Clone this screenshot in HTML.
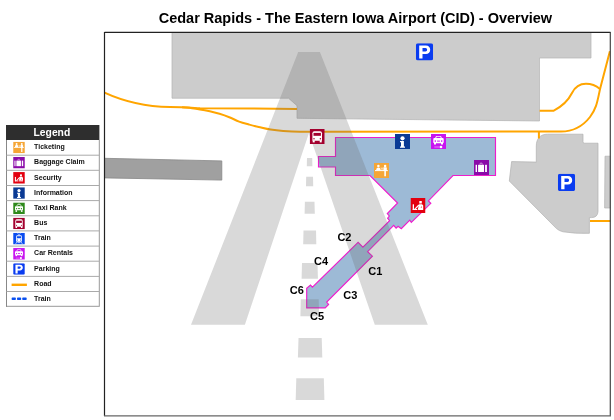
<!DOCTYPE html>
<html><head><meta charset="utf-8">
<style>
html,body{margin:0;padding:0;background:#fff;}
body{width:614px;height:420px;overflow:hidden;position:relative;font-family:"Liberation Sans",sans-serif;}
svg{position:absolute;left:0;top:0;will-change:transform;}
svg text{font-family:"Liberation Sans",sans-serif;font-weight:bold;}
</style></head>
<body>
<svg width="614" height="420" viewBox="0 0 614 420">
<defs>

  <symbol id="i-bus" viewBox="0 0 15 15">
    <rect width="15" height="15" fill="#a3002e"/>
    <path fill="#fff" d="M2.7,4.2 Q2.7,2.2 4.7,2.2 H10.3 Q12.3,2.2 12.3,4.2 V11.7 H2.7 Z"/>
    <rect x="3.8" y="3.9" width="7.4" height="2.9" fill="#a3002e"/>
    <circle cx="4.3" cy="9.8" r="0.75" fill="#a3002e"/><circle cx="10.7" cy="9.8" r="0.75" fill="#a3002e"/>
    <rect x="3" y="11.4" width="2" height="2" fill="#fff"/><rect x="10" y="11.4" width="2" height="2" fill="#fff"/>
  </symbol>
  <symbol id="i-info" viewBox="0 0 15 15">
    <rect width="15" height="15" fill="#0a3a94"/>
    <circle cx="7.5" cy="4.3" r="2.1" fill="#fff"/>
    <path fill="#fff" d="M5,7 H8.9 V12.5 H10 V13.8 H5 V12.5 H6 V8.3 H5 Z"/>
  </symbol>
  <symbol id="i-car" viewBox="0 0 15 15">
    <rect width="15" height="15" fill="#c814f0"/>
    <path fill="#fff" d="M4.1,4.3 L4.9,2.3 Q5.1,1.9 5.6,1.9 H9.4 Q9.9,1.9 10.1,2.3 L10.9,4.3 Z"/>
    <path fill="#c814f0" d="M5.2,4 L5.7,2.7 H9.3 L9.8,4 Z"/>
    <rect x="2.3" y="4.1" width="10.4" height="5.1" rx="1" fill="#fff"/>
    <circle cx="4.3" cy="7.1" r="0.8" fill="#c814f0"/><circle cx="10.7" cy="7.1" r="0.8" fill="#c814f0"/>
    <rect x="6.1" y="6.6" width="2.8" height="1" fill="#c814f0"/>
    <rect x="3" y="9" width="2" height="1.5" fill="#fff"/><rect x="10" y="9" width="2" height="1.5" fill="#fff"/>
    <path d="M3.3,13 H8.6" stroke="#fff" stroke-width="0.8" stroke-opacity="0.6"/>
    <circle cx="10" cy="13" r="1.35" fill="#fff"/>
  </symbol>
  <symbol id="i-taxi" viewBox="0 0 15 15">
    <rect width="15" height="15" fill="#2f8a1c"/>
    <rect x="6" y="1.6" width="3" height="1" fill="#fff" fill-opacity="0.8"/>
    <path fill="#fff" d="M4.1,5 L4.9,3 Q5.1,2.6 5.6,2.6 H9.4 Q9.9,2.6 10.1,3 L10.9,5 Z"/>
    <path fill="#2f8a1c" d="M5.2,4.7 L5.7,3.4 H9.3 L9.8,4.7 Z"/>
    <rect x="2.3" y="4.8" width="10.4" height="5.4" rx="1" fill="#fff"/>
    <circle cx="4.3" cy="8" r="0.8" fill="#2f8a1c"/><circle cx="10.7" cy="8" r="0.8" fill="#2f8a1c"/>
    <rect x="6.1" y="7.5" width="2.8" height="1" fill="#2f8a1c"/>
    <rect x="3" y="10" width="2" height="2.2" fill="#fff"/><rect x="10" y="10" width="2" height="2.2" fill="#fff"/>
  </symbol>
  <symbol id="i-train" viewBox="0 0 15 15">
    <rect width="15" height="15" fill="#0a4cf0"/>
    <path d="M5.5,0.8 L7.5,2.3 L9.5,0.8 M7.5,2.3 V3.2" stroke="#fff" stroke-width="0.7" fill="none"/>
    <path fill="#fff" d="M3.8,5 Q3.8,3.1 5.7,3.1 H9.3 Q11.2,3.1 11.2,5 V10.5 Q11.2,11.4 10.3,11.4 H4.7 Q3.8,11.4 3.8,10.5 Z"/>
    <rect x="4.8" y="4.4" width="5.4" height="2.6" fill="#0a4cf0"/>
    <circle cx="5.6" cy="9.3" r="0.7" fill="#0a4cf0"/><circle cx="9.4" cy="9.3" r="0.7" fill="#0a4cf0"/>
    <path d="M5,11.6 Q4,13 3.2,14.2 M10,11.6 Q11,13 11.8,14.2 M5.6,12.6 H9.4" stroke="#fff" stroke-width="0.9" fill="none"/>
  </symbol>
  <symbol id="i-ticket" viewBox="0 0 15 15">
    <rect width="15" height="15" fill="#f5a637"/>
    <circle cx="4.4" cy="2.9" r="1.25" fill="#fff"/>
    <path fill="#fff" d="M2.2,7.3 C2.2,5.2 2.8,4.4 4.4,4.4 C6,4.4 6.6,5.2 6.6,7.3 Z"/>
    <circle cx="11.1" cy="2.9" r="1.25" fill="#fff"/>
    <path fill="#fff" d="M9.4,4.9 Q9.4,4.3 10,4.3 H12.2 Q12.8,4.3 12.8,4.9 V7.8 H11.9 V13.2 H10.3 V7.8 H9.4 Z"/>
    <rect x="1" y="7.1" width="12.8" height="1" fill="#fff"/>
    <path d="M7.2,4.6 L8,5.8 L8.8,4.6 M8,5.8 V7" stroke="#fff" stroke-width="0.7" fill="none"/>
  </symbol>
  <symbol id="i-bag" viewBox="0 0 15 15">
    <rect width="15" height="15" fill="#8a0aa8"/>
    <rect x="1.6" y="4.8" width="1.4" height="7.2" fill="#fff"/>
    <rect x="4.1" y="4.8" width="5.9" height="7.2" fill="#fff"/>
    <rect x="11.1" y="4.8" width="1.8" height="7.2" fill="#fff"/>
    <path d="M5.9,4.8 L6.2,3.1 H8 L8.3,4.8" stroke="#fff" stroke-width="0.6" stroke-opacity="0.8" fill="none"/>
  </symbol>
  <symbol id="i-sec" viewBox="0 0 15 15">
    <rect width="15" height="15" fill="#e3000f"/>
    <rect x="8.8" y="3" width="2.5" height="2.5" fill="#fff"/>
    <rect x="2.2" y="6.3" width="1.3" height="5.6" fill="#fff"/>
    <rect x="2.2" y="10.9" width="4.6" height="1.1" fill="#fff"/>
    <rect x="7.6" y="10.9" width="5.1" height="1.1" fill="#fff"/>
    <path fill="#fff" d="M3.5,11.2 L8,6.5 L9,7.4 L4.9,11.2 Z"/>
    <path fill="#fff" fill-rule="evenodd" d="M8.6,6.2 H11.6 L12.7,7.5 V11 H7.4 Z M10,9.6 H11.4 V8.2 Z"/>
  </symbol>
  <symbol id="i-park" viewBox="0 0 17.2 17.3">
    <rect width="17.2" height="17.3" rx="2" fill="#0a3cf0"/>
    <path fill="#fff" fill-rule="evenodd" d="M3.3,15.4 V2.2 H10 C12.7,2.2 14.3,4 14.3,6.5 C14.3,9 12.7,10.8 10,10.8 H6.6 V15.4 Z M6.6,4.8 V8.3 H9.6 C10.6,8.3 11.2,7.5 11.2,6.55 C11.2,5.6 10.6,4.8 9.6,4.8 Z"/>
  </symbol>
  <clipPath id="mapclip"><rect x="104.5" y="32.5" width="506" height="383"/></clipPath>
</defs>
<!-- title -->
<text x="158.7" y="23.2" font-size="14.5" fill="#000">Cedar Rapids - The Eastern Iowa Airport (CID) - Overview</text>

<!-- MAP -->
<g clip-path="url(#mapclip)">
  <!-- top gray block -->
  <path d="M172,32 H591 V58 H539.5 V121 L297,118.3 V105.7 L288.5,98.2 H172 Z" fill="#cccccc" stroke="#b3b3b3" stroke-width="0.7"/>
  <!-- left gray rect -->
  <path d="M100,158.2 L221.8,160.9 L221.8,180.1 L100,177.8 Z" fill="#a0a0a0" stroke="#888" stroke-width="0.8"/>
  <!-- right building -->
  <path d="M547.5,134.2 H583 V141.8 Q583,143.2 584.5,143.2 H598 V211.7 Q597.5,217.5 591.5,217.6 H589.4 V233.3 Q575,233.8 563,231.8 Q559,230.8 556.5,228.6 L509.3,181 L511.6,161.6 L536.3,162.1 V146 C536.3,139 540,134.2 547.5,134.2 Z" fill="#cccccc" stroke="#b0b0b0" stroke-width="0.7"/>
  <path d="M605,156.2 L612,156.2 L612,208 L604.6,208 Z" fill="#cccccc" stroke="#b3b3b3" stroke-width="0.7"/>

  <!-- roads -->
  <g fill="none" stroke="#ffa500" stroke-width="2">
    <path d="M104,92.3 C125,102 145,106.5 170,107 C182,107 188,107.5 200,108.2 L297,108.9"/>
    <path d="M182.0,107.3 C183.7,107.5 189.0,107.8 192.0,108.2 C195.0,108.6 197.0,108.9 200.0,109.4 C203.0,109.9 206.6,110.6 209.8,111.3 C213.1,112.0 216.2,112.8 219.5,113.8 C222.8,114.8 226.0,115.9 229.3,117.2 C232.6,118.5 235.8,120.4 239.1,121.6 C242.4,122.8 245.6,123.6 248.9,124.5 C252.2,125.4 255.1,126.2 258.7,127.0 C262.3,127.8 266.5,128.9 270.6,129.6 C274.7,130.3 278.3,130.7 283.2,131.0 C288.1,131.3 293.9,131.6 300.0,131.7 C306.1,131.8 316.7,131.7 320.0,131.7 L561,131.5"/>
    <path d="M539.6,110.8 H553.4 C561,107 568,101 572,93 C575,87 579,83.8 586,83.8 C592,83.8 597,86.5 600,89"/>
    <path d="M609.9,51.2 L600.3,88 C597.5,100 597,108 590,117 C583,126 573,131.5 561,131.5"/>
    <path d="M538.9,131.5 V138.5"/>
    <path d="M590,221 H612"/>
  </g>

  <!-- terminal -->
  <path id="term" d="M335.5,137.5 H495.5 V175.5 H453 L428.4,200.9 L430.8,203.3 L411.3,222.4 L409.8,220.2 L401.3,228.7 L398.1,226.3 L396.1,228.2 L393.7,225.3 L367.6,251.7 L372.4,256.2 L326.7,302.1 L328.6,304.5 L325.2,307.9 H306.7 V288.3 L310.5,285 L312.4,287.2 L358.1,242.4 L362.9,247.1 L389.6,220.6 L387.6,218.2 L389.3,216 L387.3,213.6 L397.6,203 L370,175.5 H335.5 V167 H318.5 V156.5 H335.5 Z" fill="#9dbad6" stroke="#ee1ccc" stroke-width="1.15"/>

  <!-- runways overlay -->
  <g fill="#6a6a6a" fill-opacity="0.255">
    <path d="M298.2,52 H319.9 L427.8,324.8 H374.8 L308.9,133.2 L244.9,324.8 H191 Z"/>
    <path d="M307,158 H312.2 L312.4,166.2 H306.8 Z"/>
    <path d="M306.2,176.7 H313 L313.2,186.3 H306 Z"/>
    <path d="M304.9,201.7 H314.5 L314.8,213.8 H304.6 Z"/>
    <path d="M303.5,230.5 H316 L316.3,244.2 H303.2 Z"/>
    <path d="M302,263 H317.5 L317.9,278.7 H301.6 Z"/>
    <path d="M300.8,299.3 H318.7 L319.1,316.3 H300.4 Z"/>
    <path d="M298.5,338 H321.7 L322.3,357.5 H297.9 Z"/>
    <path d="M296.3,378.2 H323.8 L324.4,400 H295.7 Z"/>
    <path d="M295,420 H325 V430 H295 Z"/>
  </g>

  <!-- map icons -->
  <!-- P top -->
  <use href="#i-park" x="415.9" y="43.2" width="17.2" height="17.3"/>
  <use href="#i-park" x="557.9" y="173.8" width="17.2" height="17.3"/>
  <use href="#i-bus" x="309.7" y="129" width="15" height="15"/>
  <use href="#i-info" x="395" y="134" width="15" height="15"/>
  <use href="#i-car" x="431" y="134" width="15" height="15"/>
  <use href="#i-ticket" x="374" y="163" width="15" height="15"/>
  <use href="#i-bag" x="474" y="160" width="15" height="15"/>
  <use href="#i-sec" x="410.5" y="198" width="15" height="15"/>

  <!-- labels -->
  <g font-size="11" fill="#000">
    <text x="337.4" y="241.2">C2</text>
    <text x="314" y="265">C4</text>
    <text x="368.3" y="274.5">C1</text>
    <text x="289.8" y="294">C6</text>
    <text x="343.3" y="299.3">C3</text>
    <text x="310" y="320.2">C5</text>
  </g>
</g>
<g stroke-width="1.2" fill="none">
  <line x1="104.5" y1="32.4" x2="610.5" y2="32.4" stroke="#222"/>
  <line x1="104.5" y1="32" x2="104.5" y2="416" stroke="#222"/>
  <line x1="610.3" y1="32" x2="610.3" y2="416" stroke="#444"/>
  <line x1="104" y1="415.8" x2="611" y2="415.8" stroke="#666" stroke-width="1.3"/>
</g>

<!-- LEGEND -->
<g>
  <rect x="6.5" y="125.5" width="92.8" height="180.8" fill="#fff" stroke="#999" stroke-width="1"/>
  <line x1="6.5" y1="125" x2="6.5" y2="306.8" stroke="#888" stroke-width="1"/>
  <rect x="6" y="125" width="93" height="15" fill="#2e2e2e"/>
  <text x="51.9" y="135.7" font-size="10.3" fill="#fff" text-anchor="middle">Legend</text>
  <g stroke="#aaa" stroke-width="1">
    <line x1="6.5" x2="99" y1="155.2" y2="155.2"/>
    <line x1="6.5" x2="99" y1="170.3" y2="170.3"/>
    <line x1="6.5" x2="99" y1="185.5" y2="185.5"/>
    <line x1="6.5" x2="99" y1="200.6" y2="200.6"/>
    <line x1="6.5" x2="99" y1="215.8" y2="215.8"/>
    <line x1="6.5" x2="99" y1="230.9" y2="230.9"/>
    <line x1="6.5" x2="99" y1="246.1" y2="246.1"/>
    <line x1="6.5" x2="99" y1="261.2" y2="261.2"/>
    <line x1="6.5" x2="99" y1="276.4" y2="276.4"/>
    <line x1="6.5" x2="99" y1="291.5" y2="291.5"/>
  </g>
  <g font-size="7" fill="#111">
    <text x="34.1" y="149.1">Ticketing</text>
    <text x="34.1" y="164.3">Baggage Claim</text>
    <text x="34.1" y="179.5">Security</text>
    <text x="34.1" y="194.7">Information</text>
    <text x="34.1" y="209.9">Taxi Rank</text>
    <text x="34.1" y="225.1">Bus</text>
    <text x="34.1" y="240.2">Train</text>
    <text x="34.1" y="255.4">Car Rentals</text>
    <text x="34.1" y="270.6">Parking</text>
    <text x="34.1" y="285.8">Road</text>
    <text x="34.1" y="301.0">Train</text>
  </g>
  <use href="#i-ticket" x="13.1" y="141.70" width="11.8" height="11.6" preserveAspectRatio="none"/>
  <use href="#i-bag" x="13.1" y="156.89" width="11.8" height="11.6" preserveAspectRatio="none"/>
  <use href="#i-sec" x="13.1" y="172.08" width="11.8" height="11.6" preserveAspectRatio="none"/>
  <use href="#i-info" x="13.1" y="187.27" width="11.8" height="11.6" preserveAspectRatio="none"/>
  <use href="#i-taxi" x="13.1" y="202.46" width="11.8" height="11.6" preserveAspectRatio="none"/>
  <use href="#i-bus" x="13.1" y="217.65" width="11.8" height="11.6" preserveAspectRatio="none"/>
  <use href="#i-train" x="13.1" y="232.84" width="11.8" height="11.6" preserveAspectRatio="none"/>
  <use href="#i-car" x="13.1" y="248.03" width="11.8" height="11.6" preserveAspectRatio="none"/>
  <use href="#i-park" x="13.1" y="263.22" width="11.8" height="11.6" preserveAspectRatio="none"/>
  <line x1="11.6" x2="26.9" y1="284.8" y2="284.8" stroke="#ffa500" stroke-width="2.4"/>
  <g fill="#0a50f0"><rect x="11.6" y="297.6" width="4.3" height="2.4" rx="0.8"/><rect x="17" y="297.6" width="4.2" height="2.4" rx="0.8"/><rect x="22.2" y="297.6" width="4.5" height="2.4" rx="0.8"/></g>
</g>
</svg>
</body></html>
